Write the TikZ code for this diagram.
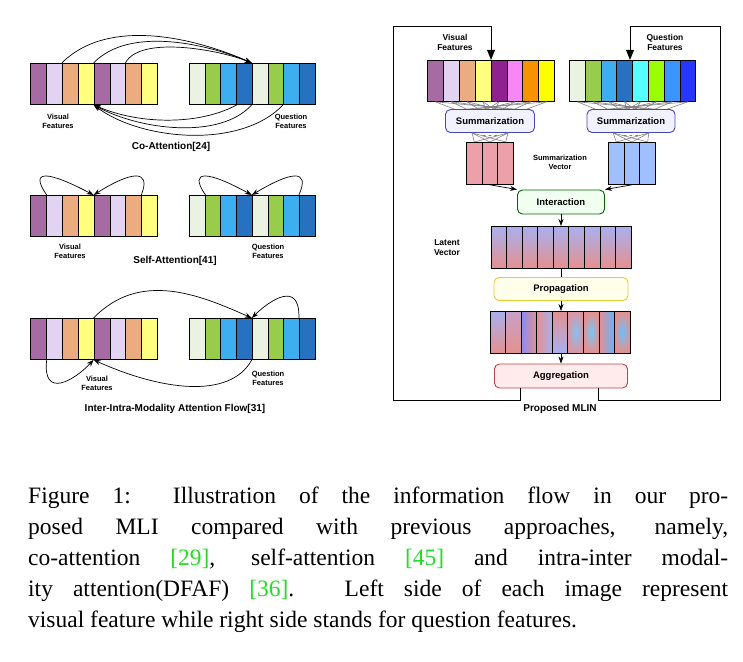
\documentclass[tikz,border=0pt]{standalone}
\usepackage{fontspec}
\setmainfont{Liberation Serif}
\newfontfamily\sans{Liberation Sans}
\usetikzlibrary{arrows.meta,calc}
\definecolor{va}{HTML}{A66BA3}\definecolor{vb}{HTML}{E2D3F2}\definecolor{vc}{HTML}{EBAC80}\definecolor{vd}{HTML}{FFFF80}
\definecolor{ve}{HTML}{8E2290}\definecolor{vf}{HTML}{F786F6}\definecolor{vg}{HTML}{F79300}\definecolor{vh}{HTML}{FFFF00}
\definecolor{qa}{HTML}{EAF3E2}\definecolor{qb}{HTML}{97CD4B}\definecolor{qc}{HTML}{3DAEF0}\definecolor{qd}{HTML}{2672C0}
\definecolor{qe}{HTML}{55FFFF}\definecolor{qf}{HTML}{99FF00}\definecolor{qg}{HTML}{3A95FF}\definecolor{qh}{HTML}{2737FF}
\definecolor{pk}{HTML}{EBA0AA}\definecolor{bl}{HTML}{A0BFFF}
\definecolor{lt}{HTML}{A8B0F0}\definecolor{lb}{HTML}{E59090}
\definecolor{cit}{HTML}{22DD22}
\tikzset{
 cell/.style={draw=black,line width=0.8pt,anchor=north west,inner sep=0pt},
 lab/.style={font=\sans\bfseries\fontsize{7.5}{9}\selectfont,align=center},
 ttl/.style={font=\sans\bfseries\fontsize{10}{12}\selectfont},
 box/.style={draw,rounded corners=5pt,line width=0.9pt,minimum height=23pt,font=\sans\bfseries\fontsize{9.5}{11}\selectfont},
 arr/.style={-{Stealth[length=7pt,width=5pt]},line width=0.7pt},
 fan/.style={gray,line width=0.6pt},
 frame/.style={line width=1pt},
 captxt/.style={anchor=base west,inner sep=0pt,font=\fontsize{23.5}{28}\selectfont},
}
% #1 prefix, #2 x, #3 y, #4 cell width, #5 height, #6 colours
\newcommand\mkbar[6]{\foreach \c [count=\i] in {#6}
  \node[cell,fill=\c,minimum width=#4pt,minimum height=#5pt] (#1\i) at ({#2+(\i-1)*#4},#3) {};}
\begin{document}
\begin{tikzpicture}[x=1pt,y=-1pt]
\useasboundingbox (0,0) rectangle (743,661);
% ---------- Co-attention
\mkbar{ca}{30}{63}{15.9}{41}{va,vb,vc,vd,va,vb,vc,vd}
\mkbar{cq}{189}{63}{15.7}{41}{qa,qb,qc,qd,qa,qb,qc,qd}
\draw[arr] (ca3.north west) .. controls (110,15) and (200,40) .. (cq5.north west);
\draw[arr] (ca5.north west) .. controls (130,25) and (210,45) .. (cq5.north west);
\draw[arr] (ca7.north west) .. controls (140,35) and (220,50) .. (cq5.north west);
\draw[arr] (cq3.south east) .. controls (200,125) and (140,125) .. (ca5.south west);
\draw[arr] (cq5.south west) .. controls (220,140) and (140,130) .. (ca5.south west);
\draw[arr] (cq7.south west) .. controls (240,150) and (140,140) .. (ca5.south west);
\node[lab] (cal) at (58,121) {Visual\\Features};
\node[lab] (cql) at (291,121) {Question\\Features};
\node[ttl] (cat) at (171,147) {Co-Attention[24]};
% ---------- Self-attention
\mkbar{sa}{30}{195}{15.9}{41}{va,vb,vc,vd,va,vb,vc,vd}
\mkbar{sq}{189}{195}{15.7}{41}{qa,qb,qc,qd,qa,qb,qc,qd}
\draw[arr] (sa1.north east) .. controls (28,168) and (50,172) .. (sa5.north west);
\draw[arr] (sa8.north west) .. controls (152,168) and (130,172) .. (sa5.north west);
\draw[arr] (sq1.north east) .. controls (187,168) and (210,172) .. (sq5.north west);
\draw[arr] (sq8.north west) .. controls (311,168) and (290,172) .. (sq5.north west);
\node[lab] (sal) at (70,251) {Visual\\Features};
\node[lab] (sql) at (268,251) {Question\\Features};
\node[ttl] (sat) at (175,261) {Self-Attention[41]};
% ---------- Inter-Intra
\mkbar{ia}{30}{318}{15.9}{41}{va,vb,vc,vd,va,vb,vc,vd}
\mkbar{iq}{189}{318}{15.7}{41}{qa,qb,qc,qd,qa,qb,qc,qd}
\draw[arr] (ia5.north west) .. controls (140,270) and (200,295) .. (iq5.north west);
\draw[arr] (iq8.north west) .. controls (300,280) and (270,300) .. (iq5.north west);
\draw[arr] (ia1.south east) .. controls (42,400) and (75,380) .. (ia5.south west);
\draw[arr] (iq5.south west) .. controls (230,400) and (160,390) .. (ia5.south west);
\node[lab] (ial) at (97,383) {Visual\\Features};
\node[lab] (iql) at (268,378) {Question\\Features};
\node[ttl] (iat) at (175,409) {Inter-Intra-Modality Attention Flow[31]};
% ---------- MLIN
\mkbar{mv}{427}{60}{15.9}{41}{va,vb,vc,vd,ve,vf,vg,vh}
\mkbar{mq}{569}{60}{15.8}{41}{qa,qb,qc,qd,qe,qf,qg,qh}
\foreach \i/\t in {1/0.12,2/0.25,3/0.38,4/0.45,5/0.55,6/0.62,7/0.75,8/0.88}{
  \draw[fan] (mv\i.south) -- ($(446,110)!\t!(535,110)$);
  \draw[fan] (mq\i.south) -- ($(587,110)!\t!(675,110)$);
  \draw[fan] (mv\i.south) -- ($(446,110)!{1-\t}!(535,110)$);
  \draw[fan] (mq\i.south) -- ($(587,110)!{1-\t}!(675,110)$);}
\node[box,fill=blue!5,draw=blue!45!gray,minimum width=89pt] (sv) at (490,121) {Summarization};
\node[box,fill=blue!5,draw=blue!45!gray,minimum width=88pt] (sq) at (631,121) {Summarization};
\node[font=\bfseries,gray!70!black] (d1) at (490,103) {- - -};
\node[font=\bfseries,gray!70!black] (d2) at (631,103) {- - -};
\mkbar{pv}{466}{142}{15.7}{42}{pk,pk,pk}
\mkbar{pq}{608}{142}{15.7}{42}{bl,bl,bl}
\foreach \i in {1,2,3}{
  \draw[fan] ($(sv.south west)!0.3!(sv.south east)$) -- (pv\i.north);
  \draw[fan] ($(sv.south west)!0.7!(sv.south east)$) -- (pv\i.north);
  \draw[fan] ($(sq.south west)!0.3!(sq.south east)$) -- (pq\i.north);
  \draw[fan] ($(sq.south west)!0.7!(sq.south east)$) -- (pq\i.north);}
\node[font=\bfseries,gray!70!black] (d3) at (490,137) {- - -};
\node[font=\bfseries,gray!70!black] (d4) at (631,137) {- - -};
\node[lab] (svl) at (560,162) {Summarization\\Vector};
\node[box,fill=green!6,draw=green!40!black,minimum width=87pt,minimum height=24pt] (int) at (561,202) {Interaction};
\draw[arr] (pv2.south) -- (int.north west);
\draw[arr] (pq2.south) -- (int.north east);
% latent
\foreach \i in {1,...,9}{
  \shade[top color=lt,bottom color=lb] ({491+(\i-1)*15.56},226) rectangle ++(15.56,42);
  \draw[line width=0.8pt] ({491+(\i-1)*15.56},226) rectangle ++(15.56,42);}
\coordinate (lvt) at (561,226);\coordinate (lvb) at (561,268);
\node[lab,font=\sans\bfseries\fontsize{8.5}{10}\selectfont] (lvl) at (447,248) {Latent\\Vector};
\draw[arr] (int.south) -- (lvt);
\node[box,fill=yellow!8,draw=yellow!60!brown,minimum width=134pt] (prop) at (561,289) {Propagation};
\draw[line width=0.7pt] (lvb) -- (prop.north);
% propagated
\def\pw{15.56}
\shade[top color=lt,bottom color=lb] (490,311) rectangle ++(\pw,42);
\shade[top color={rgb,255:red,200;green,160;blue,200},bottom color=lb] ({490+\pw},311) rectangle ++(\pw,42);
\shade[left color=lt!80!blue,right color=lb] ({490+2*\pw},311) rectangle ++(\pw,42);
\shade[left color=lb,right color=lt] ({490+3*\pw},311) rectangle ++(\pw,42);
\shade[top color=lb,bottom color=lt] ({490+4*\pw},311) rectangle ++(\pw,42);
\shade[inner color=lt!80!cyan,outer color=lb!80!lt] ({490+5*\pw},311) rectangle ++(\pw,42);
\shade[inner color=lt!70!cyan,outer color=lb] ({490+6*\pw},311) rectangle ++(\pw,42);
\shade[left color=lb,right color=blue!50!cyan!60] ({490+7*\pw},311) rectangle ++(\pw,42);
\shade[inner color=blue!40!cyan!60,outer color=lb] ({490+8*\pw},311) rectangle ++(\pw,42);
\foreach \i in {1,...,9} \draw[line width=0.8pt] ({490+(\i-1)*\pw},311) rectangle ++(\pw,42);
\coordinate (pgt) at (561,311);\coordinate (pgb) at (561,353);
\draw[arr] (prop.south) -- (pgt);
\node[box,fill=red!8,draw=red!45!gray,minimum width=133pt,minimum height=24pt] (agg) at (561,376) {Aggregation};
\draw[arr] (pgb) -- (agg.north);
% frame
\coordinate (fa) at (393,27);\coordinate (fb) at (720,27);
\coordinate (vin) at (491,60);\coordinate (qin) at (630,60);
\draw[frame] ($(agg.south west)!0.2!(agg.south east)$) -- ++(0,12) -| (fa) -| ([yshift=2pt]vin);
\draw[frame] ($(agg.south west)!0.78!(agg.south east)$) -- ++(0,12) -| (fb) -| ([yshift=2pt]qin);
\fill (vin) -- ++(-4,-10) -- ++(8,0) -- cycle;
\fill (qin) -- ++(-4,-10) -- ++(8,0) -- cycle;
\node[lab,font=\sans\bfseries\fontsize{8.5}{10}\selectfont] (mvl) at (455,42) {Visual\\Features};
\node[lab,font=\sans\bfseries\fontsize{8.5}{10}\selectfont] (mql) at (665,42) {Question\\Features};
\node[ttl] (mlt) at (560,409) {Proposed MLIN};
% caption
\node[captxt] (c1) at (28,503) {\makebox[700pt][s]{Figure 1: Illustration of the information flow in our pro-}};
\node[captxt] (c2) at (28,534) {\makebox[700pt][s]{posed MLI compared with previous approaches, namely,}};
\node[captxt] (c3) at (28,565) {\makebox[700pt][s]{co-attention \textcolor{cit}{[29]}, self-attention \textcolor{cit}{[45]} and intra-inter modal-}};
\node[captxt] (c4) at (28,596) {\makebox[700pt][s]{ity attention(DFAF) \textcolor{cit}{[36]}. Left side of each image represent}};
\node[captxt] (c5) at (28,627) {visual feature while right side stands for question features.};
\end{tikzpicture}
\end{document}
